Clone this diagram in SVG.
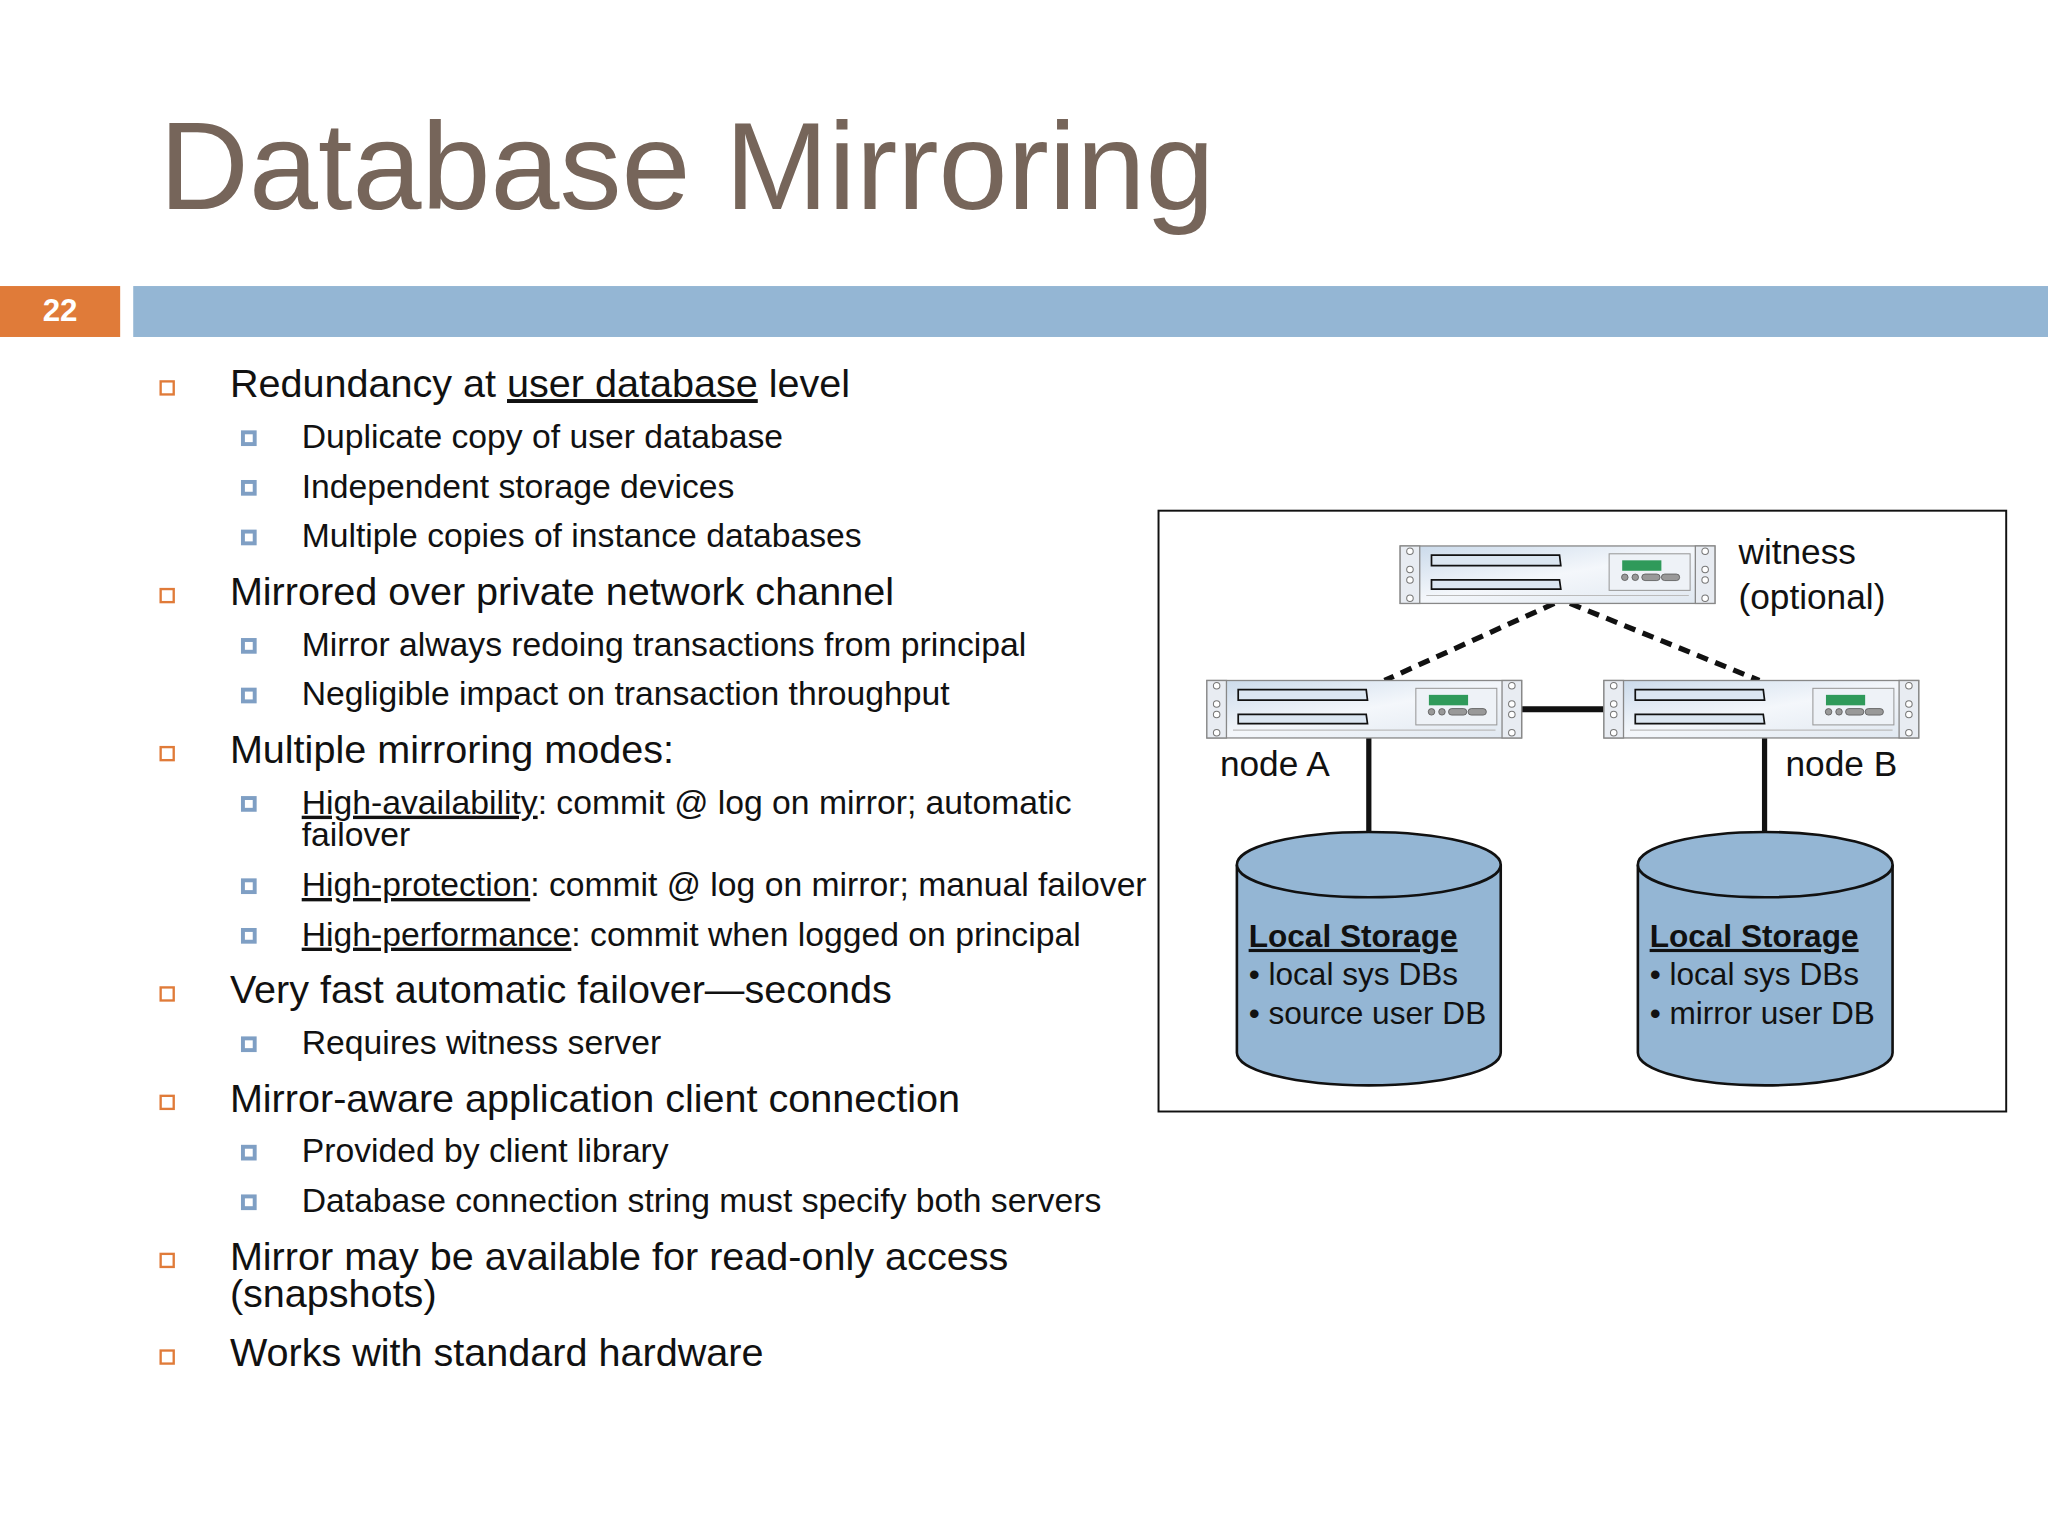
<svg xmlns="http://www.w3.org/2000/svg" width="2048" height="1536" viewBox="0 0 2048 1536">
<defs>
<style>
.t1{font-family:"Liberation Sans",Arial,sans-serif;font-size:30.3px;fill:#111}
.t2{font-family:"Liberation Sans",Arial,sans-serif;font-size:25.8px;fill:#111}
.u{text-decoration:underline}
.b1{fill:none;stroke:#e07b39;stroke-width:1.8}
.b2{fill:none;stroke:#7f9fc4;stroke-width:3}
.lbl{font-family:"Liberation Sans",Arial,sans-serif;font-size:27px;fill:#111}
.cyl{fill:#94b6d4;stroke:#111;stroke-width:2}
.ct{font-family:"Liberation Sans",Arial,sans-serif;font-size:24.2px;fill:#111}
</style>
<linearGradient id="g" x1="0" y1="0" x2="1" y2="1">
<stop offset="0" stop-color="#c9d9ea"/><stop offset="0.5" stop-color="#f4f7fb"/><stop offset="1" stop-color="#dfe7f0"/>
</linearGradient>
<g id="srv">
<rect x="0" y="0" width="241" height="44" fill="url(#g)" stroke="#888" stroke-width="1"/>
<rect x="0" y="0" width="15" height="44" fill="#e8ecf2" stroke="#888" stroke-width="1"/>
<rect x="226" y="0" width="15" height="44" fill="#e8ecf2" stroke="#888" stroke-width="1"/>
<g fill="#fff" stroke="#777" stroke-width="0.8">
<circle cx="7.5" cy="4" r="2.5"/><circle cx="7.5" cy="18" r="2.5"/><circle cx="7.5" cy="26" r="2.5"/><circle cx="7.5" cy="40" r="2.5"/>
<circle cx="233.5" cy="4" r="2.5"/><circle cx="233.5" cy="18" r="2.5"/><circle cx="233.5" cy="26" r="2.5"/><circle cx="233.5" cy="40" r="2.5"/>
</g>
<path d="M24 7 H122 L123 15 H24 Z M24 26 H122 L123 33 H24 Z" fill="#dbe6f1" stroke="#111" stroke-width="1.3"/>
<rect x="160" y="6" width="62" height="28" fill="#eef2f7" stroke="#999" stroke-width="0.8"/>
<rect x="170" y="11" width="30" height="8" fill="#2f9a5a"/>
<g fill="#999" stroke="#555" stroke-width="0.6"><circle cx="172" cy="24" r="2.5"/><circle cx="180" cy="24" r="2.5"/><rect x="185" y="21.5" width="14" height="5" rx="2.5"/><rect x="200" y="21.5" width="14" height="5" rx="2.5"/></g>
<line x1="20" y1="38" x2="221" y2="38" stroke="#bbb" stroke-width="0.8"/>
</g>
</defs>
<rect width="2048" height="1536" fill="#fff"/>
<g transform="scale(1.30612)">
<g id="header">
<text x="122" y="160" font-family="Liberation Sans,Arial,sans-serif" font-size="95" fill="#76655a">Database Mirroring</text>
<rect x="0" y="219" width="92" height="39" fill="#e07b39"/>
<rect x="102" y="219" width="1466" height="39" fill="#94b6d4"/>
<text x="46" y="246" text-anchor="middle" font-family="Liberation Sans,Arial,sans-serif" font-size="24" font-weight="bold" fill="#fff">22</text>
</g>
<g id="bullets">
<rect class="b1" x="123" y="292" width="10" height="10"/><text class="t1" x="176" y="304">Redundancy at <tspan class="u">user database</tspan> level</text>
<rect class="b2" x="186" y="331" width="9" height="9"/><text class="t2" x="231" y="343">Duplicate copy of user database</text>
<rect class="b2" x="186" y="369" width="9" height="9"/><text class="t2" x="231" y="381">Independent storage devices</text>
<rect class="b2" x="186" y="407" width="9" height="9"/><text class="t2" x="231" y="419">Multiple copies of instance databases</text>
<rect class="b1" x="123" y="451" width="10" height="10"/><text class="t1" x="176" y="463">Mirrored over private network channel</text>
<rect class="b2" x="186" y="490" width="9" height="9"/><text class="t2" x="231" y="502">Mirror always redoing transactions from principal</text>
<rect class="b2" x="186" y="528" width="9" height="9"/><text class="t2" x="231" y="540">Negligible impact on transaction throughput</text>
<rect class="b1" x="123" y="572" width="10" height="10"/><text class="t1" x="176" y="584">Multiple mirroring modes:</text>
<rect class="b2" x="186" y="611" width="9" height="9"/><text class="t2" x="231" y="623"><tspan class="u">High-availability</tspan>: commit @ log on mirror; automatic</text>
<text class="t2" x="231" y="648">failover</text>
<rect class="b2" x="186" y="674" width="9" height="9"/><text class="t2" x="231" y="686"><tspan class="u">High-protection</tspan>: commit @ log on mirror; manual failover</text>
<rect class="b2" x="186" y="712" width="9" height="9"/><text class="t2" x="231" y="724"><tspan class="u">High-performance</tspan>: commit when logged on principal</text>
<rect class="b1" x="123" y="756" width="10" height="10"/><text class="t1" x="176" y="768">Very fast automatic failover—seconds</text>
<rect class="b2" x="186" y="795" width="9" height="9"/><text class="t2" x="231" y="807">Requires witness server</text>
<rect class="b1" x="123" y="839" width="10" height="10"/><text class="t1" x="176" y="851">Mirror-aware application client connection</text>
<rect class="b2" x="186" y="878" width="9" height="9"/><text class="t2" x="231" y="890">Provided by client library</text>
<rect class="b2" x="186" y="916" width="9" height="9"/><text class="t2" x="231" y="928">Database connection string must specify both servers</text>
<rect class="b1" x="123" y="960" width="10" height="10"/><text class="t1" x="176" y="972">Mirror may be available for read-only access</text>
<text class="t1" x="176" y="1001">(snapshots)</text>
<rect class="b1" x="123" y="1034" width="10" height="10"/><text class="t1" x="176" y="1046">Works with standard hardware</text>
</g>
<rect id="frame" x="887" y="391" width="649" height="460" fill="none" stroke="#111" stroke-width="1.5"/>
<g id="connectors" stroke="#111">
<line x1="1190" y1="462" x2="1060" y2="521" stroke-width="4" stroke-dasharray="9,6"/>
<line x1="1202" y1="462" x2="1347" y2="521" stroke-width="4" stroke-dasharray="9,6"/>
<line x1="1165" y1="543" x2="1228" y2="543" stroke-width="4.5"/>
<line x1="1048" y1="565" x2="1048" y2="663" stroke-width="4"/>
<line x1="1351" y1="565" x2="1351" y2="663" stroke-width="4"/>
</g>
<g id="witness"><use href="#srv" x="1072" y="418"/>
<text class="lbl" x="1331" y="432">witness</text><text class="lbl" x="1331" y="466">(optional)</text></g>
<g id="nodeA"><use href="#srv" x="924" y="521"/><text class="lbl" x="934" y="594">node A</text></g>
<g id="nodeB"><use href="#srv" x="1228" y="521"/><text class="lbl" x="1367" y="594">node B</text></g>
<g id="storageA">
<path class="cyl" d="M947 662 V806 A101 25 0 0 0 1149 806 V662"/>
<ellipse class="cyl" cx="1048" cy="662" rx="101" ry="25"/>
<text class="ct" x="956" y="725" font-weight="bold" text-decoration="underline">Local Storage</text>
<text class="ct" x="956" y="754">• local sys DBs</text>
<text class="ct" x="956" y="784">• source user DB</text>
</g>
<g id="storageB">
<path class="cyl" d="M1254 662 V806 A97.5 25 0 0 0 1449 806 V662"/>
<ellipse class="cyl" cx="1351.5" cy="662" rx="97.5" ry="25"/>
<text class="ct" x="1263" y="725" font-weight="bold" text-decoration="underline">Local Storage</text>
<text class="ct" x="1263" y="754">• local sys DBs</text>
<text class="ct" x="1263" y="784">• mirror user DB</text>
</g>
</g>
</svg>
